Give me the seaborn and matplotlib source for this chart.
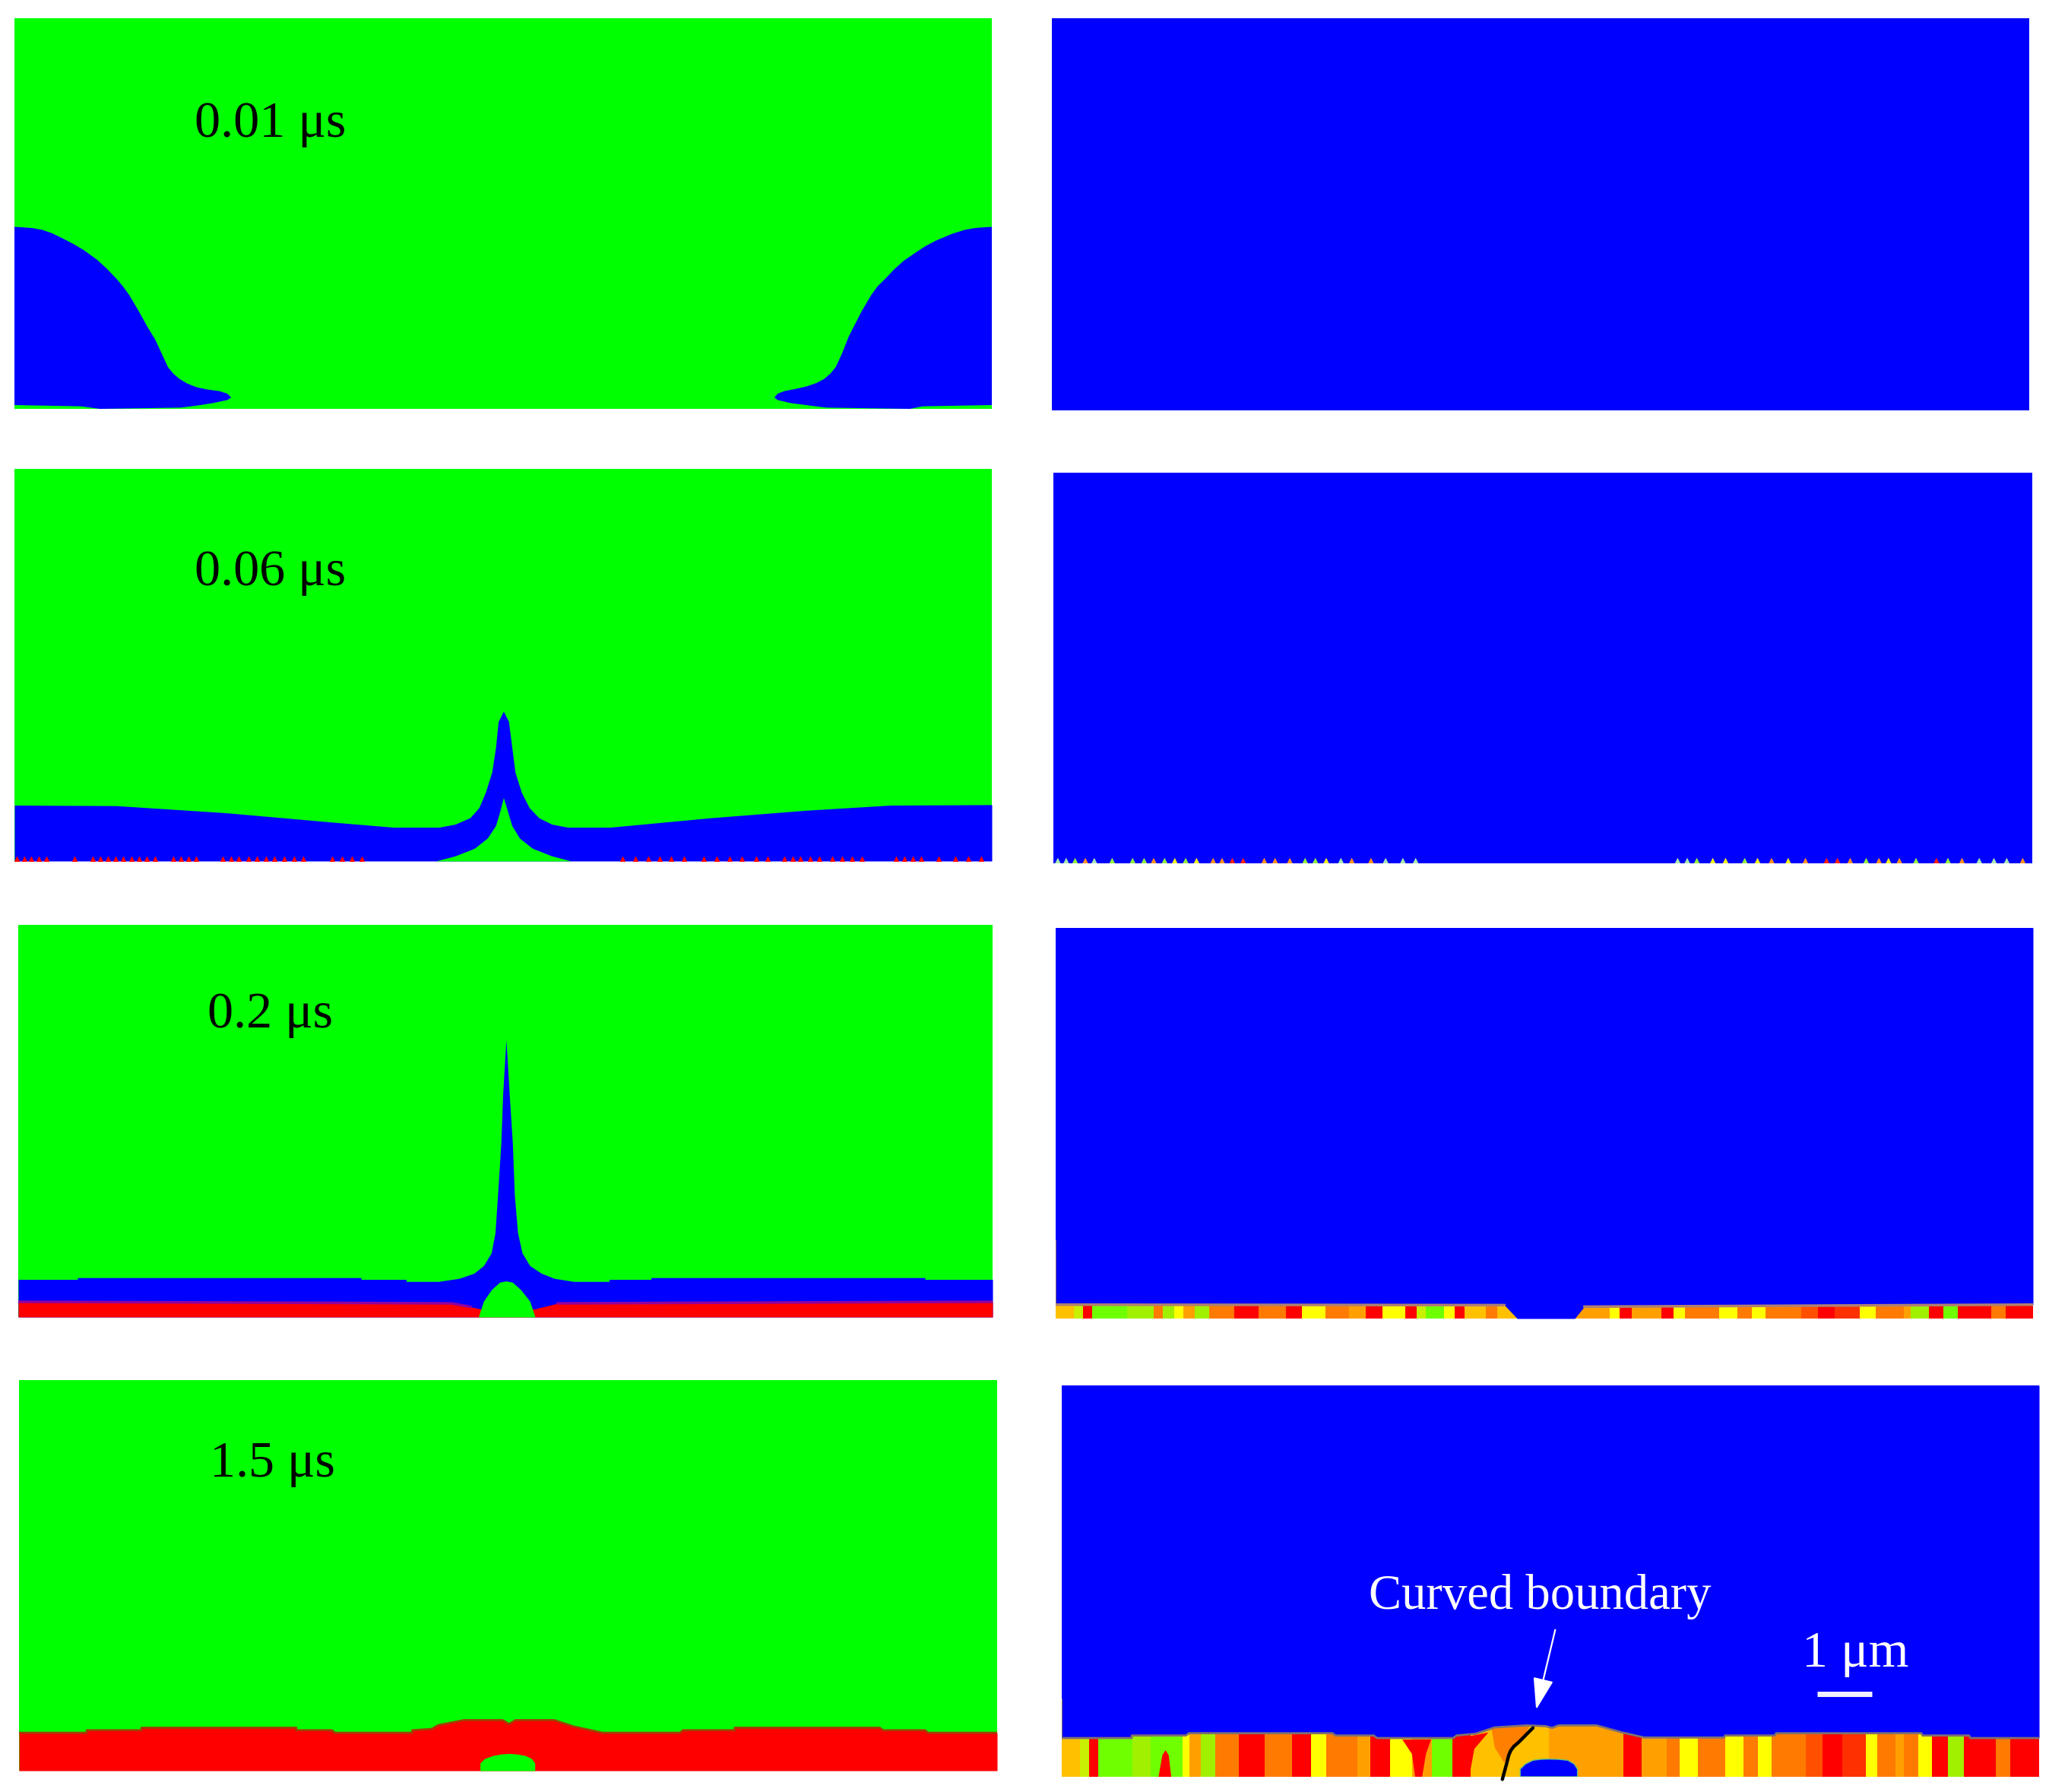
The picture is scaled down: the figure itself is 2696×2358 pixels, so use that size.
import numpy as np
import matplotlib
matplotlib.use('Agg')
import matplotlib.pyplot as plt
from matplotlib.colors import ListedColormap
import seaborn as sns

W, H = 2696, 2358
GREEN, BLUE, RED = '#00ff00', '#0000ff', '#ff0000'

# Panel boxes in picture pixels: left, top, right, bottom
boxes = {
    'r1l': (19, 24, 1305, 538), 'r1r': (1384, 24, 2670, 540),
    'r2l': (19, 617, 1305, 1133), 'r2r': (1386, 622, 2674, 1136),
    'r3l': (24, 1217, 1306, 1733), 'r3r': (1389, 1221, 2675, 1735),
    'r4l': (25, 1816, 1312, 2330), 'r4r': (1397, 1823, 2683, 2338),
}

time_labels = ['0.01 μs', '0.06 μs', '0.2 μs', '1.5 μs']
time_label_x = [356, 356, 356, 358]
time_label_base = [180, 770, 1352, 1943]

# Row 1, left: blue blobs (x then y)
blob_l_x = [22, 35, 50, 65, 80, 100, 115, 130, 150, 165, 180, 190, 200, 215, 228, 240, 250, 260, 268, 278, 290, 305, 320,
            340, 352, 358, 352, 330, 305, 280, 155, 125, 22]
blob_l_y = [85, 87, 90, 97, 110, 135, 155, 178, 215, 250, 290, 320, 355, 420, 480, 530, 585, 640, 665, 687, 705, 720, 728,
            735, 745, 760, 770, 782, 792, 800, 805, 795, 790]
blob_r_x = [1537, 1524, 1510, 1495, 1475, 1450, 1435, 1420, 1400, 1385, 1372, 1360, 1350, 1335, 1325, 1315, 1305, 1295,
            1287, 1277, 1265, 1250, 1235, 1215, 1205, 1200, 1205, 1225, 1255, 1280, 1410, 1430, 1537]
blob_r_y = [85, 87, 90, 97, 113, 140, 160, 185, 220, 255, 290, 320, 355, 420, 470, 520, 585, 640, 665, 687, 703, 716, 725,
            735, 745, 760, 770, 782, 792, 800, 805, 795, 790]

# Row 2, left
r2_top_x = [22, 180, 350, 520, 610, 680, 705, 728, 742, 752, 762, 768, 772, 780, 788, 793, 798, 808, 820, 835, 855, 880, 945,
            1100, 1250, 1380, 1537]
r2_top_y = [480, 482, 510, 548, 567, 567, 555, 530, 490, 430, 350, 250, 150, 110, 150, 250, 350, 430, 490, 530, 555, 567,
            567, 530, 500, 480, 478]
r2_in_x = [675, 705, 735, 755, 768, 775, 780, 786, 793, 805, 825, 855, 885]
r2_in_y = [700, 680, 650, 610, 560, 500, 450, 500, 560, 610, 650, 680, 700]
r2_red_x = [25, 37, 48, 60, 72, 115, 143, 155, 167, 179, 191, 203, 215, 227, 240, 268, 280, 292, 304, 345, 358, 370,
            385, 398, 412, 425, 440, 455, 470, 515, 530, 545, 560, 965, 985, 1005, 1022, 1040, 1060, 1090, 1110, 1130,
            1150, 1172, 1190, 1215, 1228, 1240, 1255, 1270, 1290, 1305, 1320, 1335, 1388, 1402, 1415, 1428, 1455, 1480,
            1500, 1520]

# Row 2, right: small grains along the bottom
r2r_x = [15, 28, 42, 58, 72, 100, 132, 150, 165, 182, 198, 215, 232, 258, 272, 288, 305, 338, 355, 378, 402, 418, 435,
         458, 475, 505, 528, 555, 575, 985, 1000, 1015, 1040, 1060, 1090, 1110, 1132, 1158, 1185, 1218, 1235, 1255,
         1280, 1300, 1315, 1332, 1358, 1390, 1408, 1430, 1457, 1480, 1500, 1525]
r2r_kind = ['pale', 'pale', 'lime', 'orange', 'pale', 'lime', 'lime', 'lime', 'orange', 'lime', 'yellow', 'lime', 'yellow',
            'orange', 'orange', 'red', 'red', 'orange', 'orange', 'orange', 'lime', 'lime', 'yellow', 'pale', 'orange',
            'orange', 'pale', 'pale', 'pale', 'pale', 'pale', 'lime', 'yellow', 'yellow', 'lime', 'yellow', 'orange',
            'yellow', 'orange', 'red', 'red', 'orange', 'lime', 'orange', 'yellow', 'orange', 'lime', 'red', 'lime',
            'orange', 'pale', 'pale', 'pale', 'orange']
r2r_palette = {'pale': '#a8e8b0', 'lime': '#90f040', 'yellow': '#f0f020', 'orange': '#ff9020', 'red': '#ff2010'}

# Row 3, left
r3_top_x = [28, 120, 120, 560, 560, 630, 630, 680, 712, 735, 750, 762, 768, 772, 777, 780, 785, 790, 795, 798, 803, 810,
            822, 840, 860, 890, 945, 945, 1010, 1010, 1435, 1435, 1540]
r3_top_y = [1034, 1034, 1027, 1027, 1034, 1034, 1042, 1042, 1030, 1010, 980, 930, 850, 700, 500, 300, 90, 300, 500, 700,
            850, 930, 980, 1010, 1030, 1042, 1042, 1034, 1034, 1027, 1027, 1034, 1034]
r3_red_x = [28, 700, 730, 745, 830, 865, 1540]
r3_red_y = [1122, 1128, 1142, 1150, 1150, 1128, 1122]
r3_bump_x = [742, 750, 762, 775, 785, 795, 808, 822, 830]
r3_bump_y = [1182, 1120, 1075, 1045, 1040, 1045, 1075, 1120, 1182]

# Grain colours used in the strips of the right column
grain_palette = ['#ff0000', '#ff3000', '#ff5000', '#ff7a00', '#ffa000', '#ffc000', '#ffff00', '#c8f000', '#a0f000', '#70ff00']

# Row 3, right
r3r_edges = [12, 40, 55, 70, 125, 165, 180, 197, 212, 230, 252, 292, 330, 373, 398, 435, 472, 497, 525, 560, 578, 592,
             620, 637, 653, 685, 705, 825, 880, 895, 915, 962, 980, 997, 1052, 1080, 1102, 1125, 1180, 1207, 1232, 1272,
             1295, 1340, 1352, 1380, 1403, 1425, 1477, 1500, 1543]
r3r_codes = [5, 7, 0, 9, 8, 3, 8, 6, 4, 8, 3, 0, 3, 0, 6, 3, 4, 0, 6, 0, 7, 9, 6, 0, 5, 3, 5, 4, 6, 0, 4, 0, 6, 3, 6, 3,
             6, 3, 2, 0, 1, 6, 3, 4, 8, 0, 9, 0, 3, 0]
r3r_top_x = [12, 715, 735, 825, 840, 1543]
r3r_top_y = [110, 112, 165, 165, 118, 110]

# Row 4, left
r4_top_x = [30, 135, 135, 220, 220, 460, 460, 515, 520, 640, 640, 670, 680, 720, 780, 790, 800, 860, 890, 935, 1055, 1060,
            1140, 1140, 1365, 1370, 1435, 1440, 1547]
r4_top_y = [240, 240, 230, 230, 220, 220, 230, 230, 240, 240, 230, 225, 210, 190, 190, 205, 190, 190, 215, 240, 240, 230,
            230, 220, 220, 230, 230, 240, 240]
r4_hole_x = [745, 745, 752, 765, 778, 790, 802, 815, 825, 830, 830]
r4_hole_y = [390, 360, 342, 330, 324, 322, 324, 330, 342, 360, 390]

# Row 4, right
r4r_edges = [20, 48, 62, 78, 130, 160, 210, 220, 240, 262, 298, 340, 383, 410, 435, 485, 505, 535, 570, 602, 635, 662,
             785, 830, 880, 903, 930, 970, 990, 1018, 1062, 1090, 1113, 1135, 1188, 1215, 1245, 1283, 1302, 1330, 1343,
             1365, 1388, 1412, 1436, 1487, 1510, 1555]
r4r_codes = [5, 7, 0, 9, 8, 9, 6, 4, 8, 3, 0, 3, 0, 6, 3, 4, 0, 6, 4, 9, 0, 5, 4, 4, 4, 0, 4, 3, 6, 3, 6, 3, 6, 3, 2, 0,
             1, 6, 3, 4, 3, 6, 0, 8, 0, 3, 0]
r4r_top_x = [20, 130, 130, 215, 220, 445, 450, 510, 515, 635, 640, 670, 700, 750, 780, 790, 800, 860, 900, 935, 1060, 1062,
             1140, 1142, 1370, 1372, 1445, 1447, 1555]
r4r_top_y = [862, 862, 852, 852, 843, 843, 852, 852, 862, 862, 852, 845, 820, 812, 815, 822, 812, 812, 840, 860, 860, 852,
             852, 843, 843, 852, 852, 862, 862]
wedge_a_x = [172, 178, 183, 188, 192]
wedge_a_y = [1015, 930, 910, 930, 1015]
wedge_b_x = [555, 600, 592, 586, 575, 570]
wedge_b_y = [868, 868, 925, 1015, 1015, 925]
wedge_c_x = [635, 690, 668, 660, 648, 642]
wedge_c_y = [868, 840, 905, 1015, 1015, 925]
orange_x = [695, 755, 745, 730, 722, 715, 700]
orange_y = [822, 815, 860, 895, 930, 960, 900]
curve_x = [760, 752, 745, 737, 730, 725, 722, 720, 718, 715, 712]
curve_y = [822, 842, 860, 880, 895, 912, 930, 950, 970, 997, 1025]
hole_x = [740, 740, 748, 760, 772, 785, 800, 815, 825, 830, 830]
hole_y = [1015, 985, 965, 950, 946, 945, 946, 950, 965, 985, 1015]

sns.set_theme(style='white')
plt.rcParams['font.family'] = ['Liberation Serif', 'DejaVu Serif']

fig = plt.figure(figsize=(W / 100, H / 100), dpi=100, facecolor='white')


def make_panel(name, bg):
    x0, y0, x1, y1 = boxes[name]
    ax = fig.add_axes([x0 / W, 1 - y1 / H, (x1 - x0) / W, (y1 - y0) / H], facecolor=bg)
    return ax


def finish(ax):
    ax.set_xlim(0, 750)
    ax.set_ylim(0, 300)
    ax.set_xticks([])
    ax.set_yticks([])
    ax.set_xlabel('')
    ax.set_ylabel('')
    sns.despine(ax=ax, left=True, bottom=True)


def conv(left, right, bottom):
    # zoomed crop reading -> panel units (750 wide, 300 high)
    fx = lambda v: (np.asarray(v, dtype=float) - left) / (right - left) * 750
    fy = lambda v: (bottom - np.asarray(v, dtype=float)) / 5.15
    return fx, fy


def edge(ax, x, y, color, lw):
    sns.lineplot(x=x, y=y, sort=False, estimator=None, color=color, lw=lw, ax=ax, legend=False)


def grains(ax, fx, edges, codes):
    cols = np.searchsorted(fx(edges), np.arange(750) + 0.5, side='right') - 1
    cols = np.clip(cols, 0, len(codes) - 1)
    grid = np.tile(np.asarray(codes)[cols], (60, 1))
    sns.heatmap(grid, cmap=ListedColormap(grain_palette), vmin=0, vmax=len(grain_palette) - 1, cbar=False,
                xticklabels=False, yticklabels=False, ax=ax)


# Row 1
ax = make_panel('r1l', GREEN)
fx, fy = conv(22, 1537, 805)
ax.fill(fx(blob_l_x), fy(blob_l_y), color=BLUE, lw=0)
ax.fill(fx(blob_r_x), fy(blob_r_y), color=BLUE, lw=0)
finish(ax)

ax = make_panel('r1r', BLUE)
finish(ax)

# Row 2
ax = make_panel('r2l', GREEN)
fx, fy = conv(22, 1537, 700)
ax.fill_between(fx(r2_top_x), 0, fy(r2_top_y), color=BLUE, lw=0)
ax.fill_between(fx(r2_in_x), 0, fy(r2_in_y), color=GREEN, lw=0)
sns.scatterplot(x=fx(r2_red_x), y=[1.4] * len(r2_red_x), marker='^', s=50, color=RED, linewidth=0, ax=ax, legend=False)
finish(ax)

ax = make_panel('r2r', BLUE)
fx, fy = conv(8, 1540, 110)
sns.scatterplot(x=fx(r2r_x), y=[1.4] * len(r2r_x), hue=r2r_kind, palette=r2r_palette, marker='^', s=50, linewidth=0,
                ax=ax, legend=False)
finish(ax)

# Row 3
ax = make_panel('r3l', GREEN)
fx, fy = conv(28, 1540, 1182)
ax.fill_between(fx(r3_top_x), 0, fy(r3_top_y), color=BLUE, lw=0)
ax.fill_between(fx(r3_red_x), 0, fy(r3_red_y), color=RED, lw=0)
edge(ax, fx(r3_red_x[:3]), fy(r3_red_y[:3]), '#9000a0', 2.5)
edge(ax, fx(r3_red_x[-2:]), fy(r3_red_y[-2:]), '#9000a0', 2.5)
ax.fill_between(fx(r3_bump_x), 0, fy(r3_bump_y), color=GREEN, lw=0)
finish(ax)

ax = make_panel('r3r', BLUE)
fx, fy = conv(12, 1543, 165)
grains(ax, fx, r3r_edges, r3r_codes)
ax.fill_between(fx(r3r_top_x), fy(r3r_top_y), 300, color=BLUE, lw=0)
edge(ax, fx(r3r_top_x[:2]), fy(r3r_top_y[:2]), '#b08070', 2.5)
edge(ax, fx(r3r_top_x[-2:]), fy(r3r_top_y[-2:]), '#b08070', 2.5)
finish(ax)

# Row 4
ax = make_panel('r4l', GREEN)
fx, fy = conv(30, 1547, 390)
ax.fill_between(fx(r4_top_x), 0, fy(r4_top_y), color=RED, lw=0)
edge(ax, fx(r4_top_x), fy(r4_top_y), '#a04000', 2)
ax.fill_between(fx(r4_hole_x), 0, fy(r4_hole_y), color=GREEN, lw=0)
finish(ax)

ax = make_panel('r4r', BLUE)
fx, fy = conv(20, 1555, 1015)
grains(ax, fx, r4r_edges, r4r_codes)
ax.fill(fx(wedge_a_x), fy(wedge_a_y), color=RED, lw=0)
ax.fill(fx(wedge_b_x), fy(wedge_b_y), color=RED, lw=0)
ax.fill(fx(wedge_c_x), fy(wedge_c_y), color=RED, lw=0)
ax.fill(fx(orange_x), fy(orange_y), color='#ff8000', lw=0)
ax.fill(fx(hole_x), fy(hole_y), color=BLUE, ec='#60c080', lw=1)
ax.fill_between(fx(r4r_top_x), fy(r4r_top_y), 300, color=BLUE, lw=0)
edge(ax, fx(r4r_top_x), fy(r4r_top_y), '#807070', 2)
ax.plot(fx(curve_x), fy(curve_y), color='black', lw=3.2, clip_on=False, solid_capstyle='round')
ax.plot(fx([1207, 1292]), fy([688, 688]), color='white', lw=5, solid_capstyle='butt', alpha=0.95)
ax.annotate('', xy=(fx(765), fy(750)), xytext=(fx(795), fy(435)),
            arrowprops=dict(arrowstyle='-|>,head_length=1.3,head_width=0.42', mutation_scale=20, color='white', lw=1.6,
                            shrinkA=0, shrinkB=0))
finish(ax)

for label, x, y in zip(time_labels, time_label_x, time_label_base):
    fig.text(x / W, 1 - y / H, label, color='black', fontsize=49, ha='center', va='baseline')
fig.text(2026 / W, 1 - 2117 / H, 'Curved boundary', color='white', fontsize=46.5, ha='center', va='baseline')
fig.text(2441 / W, 1 - 2193 / H, '1 μm', color='white', fontsize=49, ha='center', va='baseline')

fig.savefig('out.png', dpi=100)
